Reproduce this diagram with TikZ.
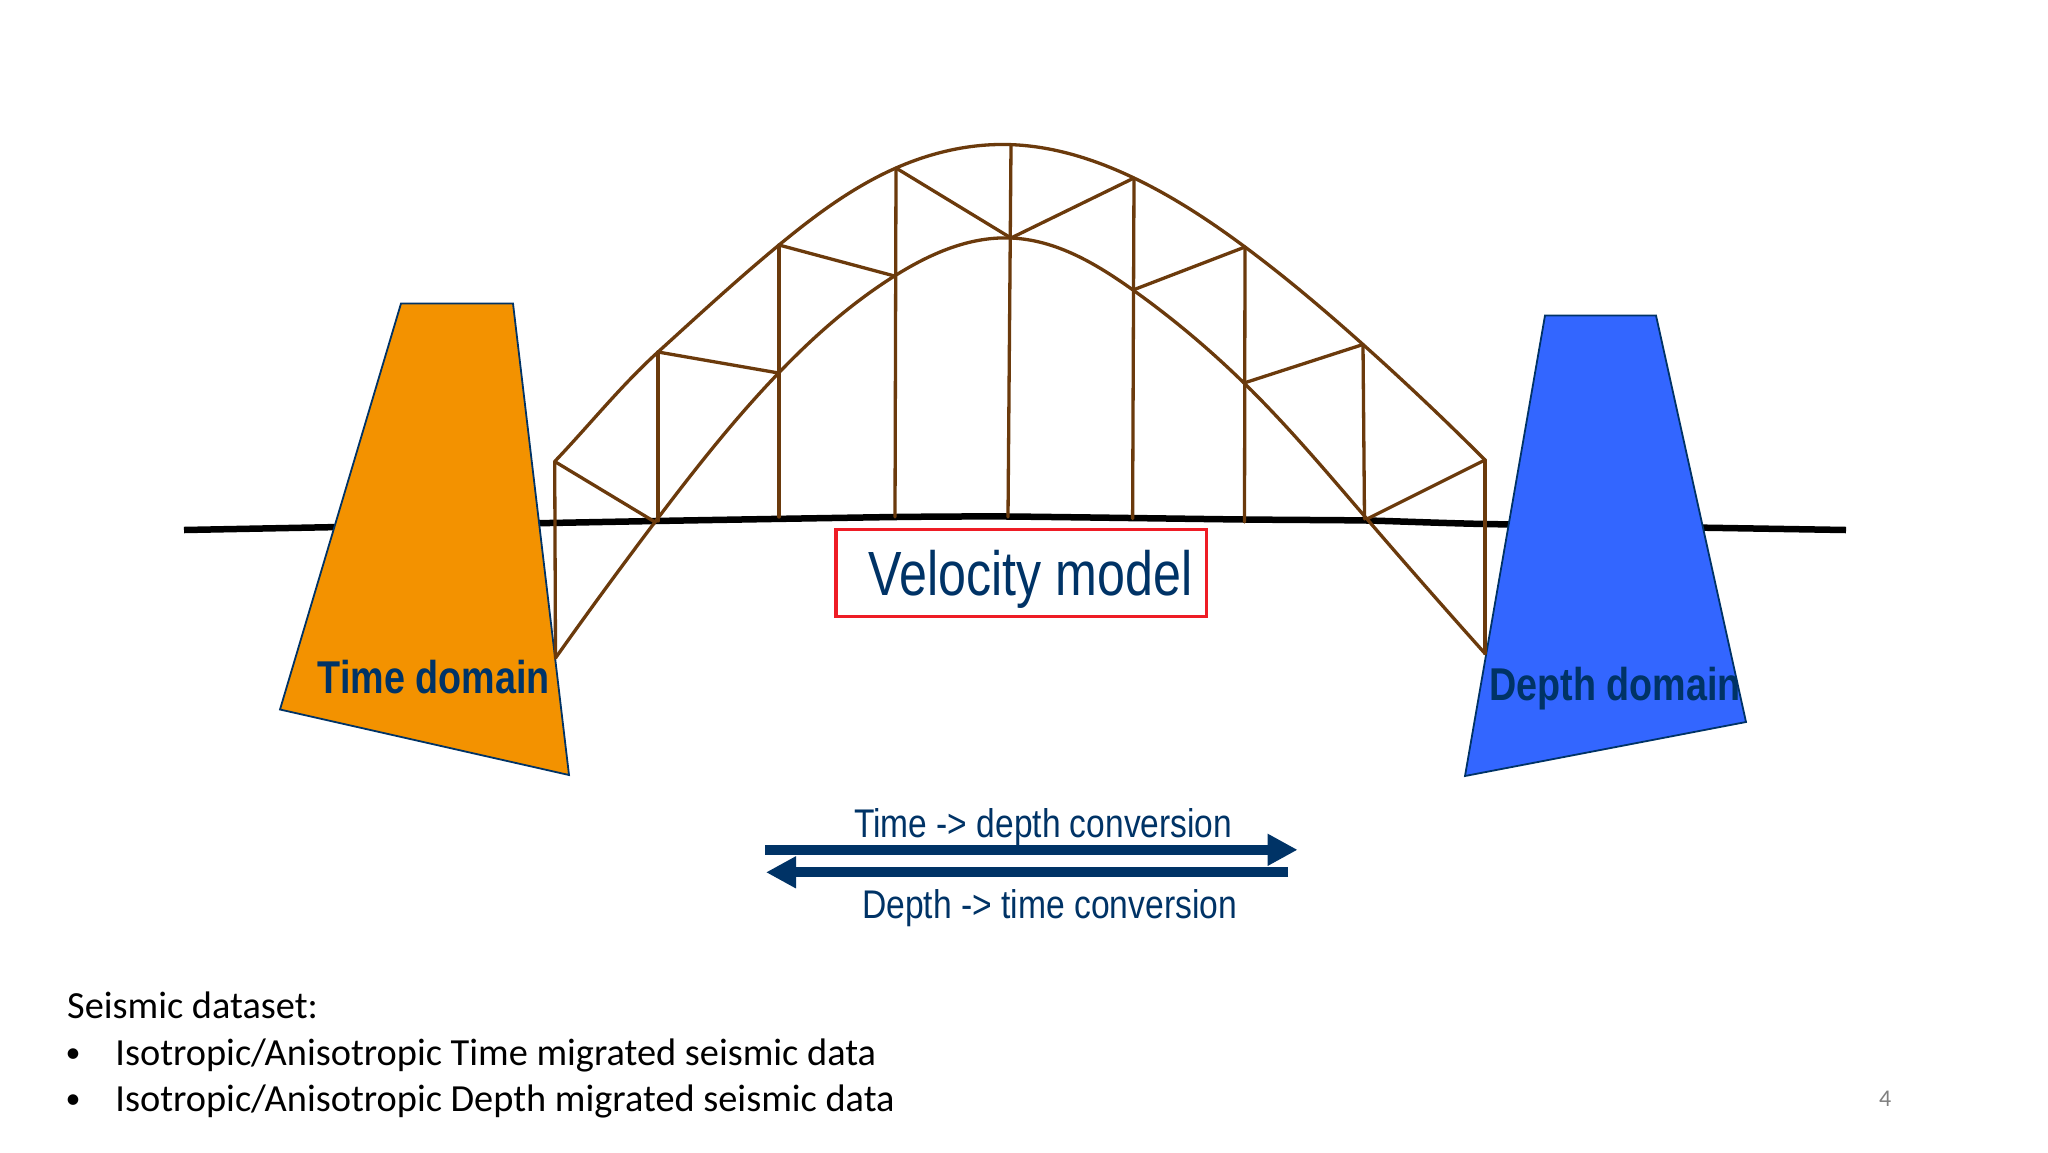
\documentclass[tikz,border=0pt]{standalone}
\usepackage{fontspec}
\usetikzlibrary{arrows.meta,hobby}
\setmainfont{Liberation Sans}
\newfontfamily\bodyfont{Carlito}
\definecolor{navy}{HTML}{003366}
\definecolor{brownline}{HTML}{6B3A0C}
\definecolor{orangefill}{HTML}{F39200}
\definecolor{bluefill}{HTML}{3366FF}
\definecolor{redbox}{HTML}{EE1C25}
\newcommand{\sq}[2]{\scalebox{#1}[1]{#2}}
\tikzset{
  truss/.style={draw=brownline,line width=3.3pt,line cap=round,line join=round},
  deck/.style={draw=black,line width=6.5pt},
  domainshape/.style={draw=navy,line width=1.8pt,line join=miter},
  lab/.style={inner sep=0pt,anchor=base west,text=navy},
  body/.style={inner sep=0pt,anchor=base west,text=black,font=\bodyfont\fontsize{38.35}{40}\selectfont},
  dot/.style={inner sep=0pt,anchor=base,text=black,font=\bodyfont\fontsize{30}{32}\selectfont},
  flow/.style={draw=navy,fill=navy,line width=10pt,-{Triangle[length=30pt,width=30pt]}},
}
\begin{document}
\begin{tikzpicture}[x=1pt,y=-1pt]
\useasboundingbox (0,0) rectangle (2048,1152);
\fill[white] (0,0) rectangle (2048,1152);
% deck
\draw[deck] plot[smooth,tension=.3] coordinates {(184,530) (655,521) (896,517) (1008,516.5) (1244,519.5) (1367,520.5) (1485,524) (1846,530)};
% shapes
\draw[domainshape,fill=orangefill] (401,303.5) -- (513,303.5) -- (569,775) -- (280,709.5) -- cycle;
\draw[domainshape,fill=bluefill] (1545,315.5) -- (1656,315.5) -- (1746,722) -- (1465,776) -- cycle;
% joints
\coordinate (oa) at (554.7,461.5);
\coordinate (ob) at (658,352);
\coordinate (oc) at (779,245);
\coordinate (od) at (896,168);
\coordinate (oe) at (1006,144.5);
\coordinate (ot) at (1011,145);
\coordinate (of) at (1134,178);
\coordinate (og) at (1245,247);
\coordinate (oh) at (1363,344.5);
\coordinate (oi) at (1485,460);
\coordinate (ia) at (555.5,658);
\coordinate (ib) at (655,522);
\coordinate (ic) at (778.6,373);
\coordinate (id) at (894.5,276);
\coordinate (ie) at (1011,238);
\coordinate (if) at (1133,290);
\coordinate (ig) at (1244,383);
\coordinate (ih) at (1367,519);
\coordinate (ii) at (1485,653.5);
\coordinate (db) at (658,521);
\coordinate (dc) at (779,517);
\coordinate (dd) at (895,517);
\coordinate (de) at (1008,517);
\coordinate (df) at (1132.6,518.5);
\coordinate (dg) at (1244.5,522);
\coordinate (dh) at (1364.5,519);
% arches
\draw[truss,use Hobby shortcut] (oa) .. (ob) .. (oc) .. (od) .. (oe) .. (of) .. (og) .. (oh) .. (oi);
\draw[truss,use Hobby shortcut] (ia) .. (ib) .. (ic) .. (id) .. (ie) .. (if) .. (ig) .. (ih) .. (ii);
% verticals
\draw[truss] (oa) -- (ia);
\draw[truss] (ob) -- (db);
\draw[truss] (oc) -- (dc);
\draw[truss] (od) -- (dd);
\draw[truss] (ot) -- (de);
\draw[truss] (of) -- (df);
\draw[truss] (og) -- (dg);
\draw[truss] (oh) -- (dh);
\draw[truss] (oi) -- (ii);
% diagonals
\draw[truss] (oa) -- (ib);
\draw[truss] (ob) -- (ic);
\draw[truss] (oc) -- (id);
\draw[truss] (od) -- (ie);
\draw[truss] (ie) -- (of);
\draw[truss] (if) -- (og);
\draw[truss] (ig) -- (oh);
\draw[truss] (ih) -- (oi);
% labels
\node[lab,font=\bfseries\fontsize{46}{50}\selectfont] (timedom) at (317.6,693.5) {\sq{.82}{Time domain}};
\node[lab,font=\bfseries\fontsize{46}{50}\selectfont] (depthdom) at (1489,700.5) {\sq{.82}{Depth domain}};
\node[draw=redbox,line width=3.5pt,inner sep=0pt,minimum width=370.7pt,minimum height=87pt] (velbox) at (1021.3,573) {};
\node[lab,font=\fontsize{62.5}{66}\selectfont] (vellab) at (868.7,595) {\sq{.803}{Velocity model}};
% conversion arrows
\coordinate (ua) at (765,849.8);
\coordinate (ub) at (1297.6,849.8);
\coordinate (la) at (1288,872.3);
\coordinate (lb) at (766,872.3);
\draw[flow] (ua) -- (ub);
\draw[flow] (la) -- (lb);
\node[lab,font=\fontsize{40}{44}\selectfont] (tdc) at (854,837) {\sq{.838}{Time -> depth conversion}};
\node[lab,font=\fontsize{40}{44}\selectfont] (dtc) at (862,918) {\sq{.841}{Depth -> time conversion}};
% bottom text
\node[body] (t1) at (67,1018.8) {Seismic dataset:};
\node[dot] (b2) at (73,1062.5) {•};
\node[body] (t2) at (115.2,1065) {Isotropic/Anisotropic Time migrated seismic data};
\node[dot] (b3) at (73,1108.5) {•};
\node[body] (t3) at (115.2,1111) {Isotropic/Anisotropic Depth migrated seismic data};
\node[inner sep=0pt,anchor=base west,text=black!50,font=\bodyfont\fontsize{24}{26}\selectfont] (pg) at (1879,1106) {4};
\end{tikzpicture}
\end{document}
